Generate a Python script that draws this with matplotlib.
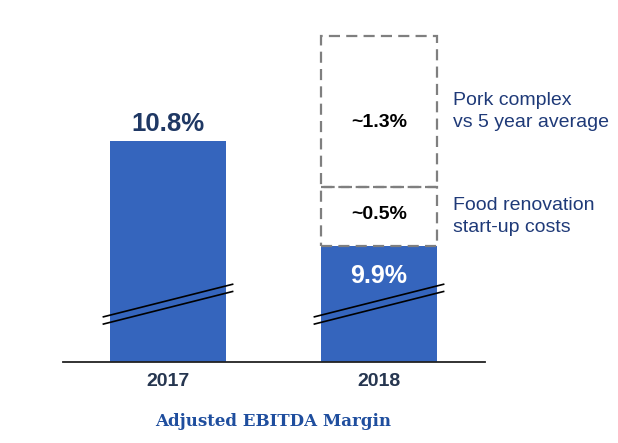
import matplotlib.pyplot as plt

plt.rcParams['font.family'] = ['Liberation Sans', 'DejaVu Sans']

years = ['2017', '2018']
margin = [10.8, 9.9]
food_cost = 0.5
pork_gap = 1.3
food_label = 'Food renovation\nstart-up costs'
pork_label = 'Pork complex\nvs 5 year average'
title = 'Adjusted EBITDA Margin'

y_base = 8.9  # broken axis, bars start here
blue = '#3565bd'
navy = '#1f3864'
grey = '#7f7f7f'

fig = plt.figure(figsize=(6.18, 4.43), dpi=100)
ax = fig.add_axes([62.5 / 618, 81 / 443, 422 / 618, 332 / 443])

x = [0, 1]
w = 0.55
ax.bar(x, [m - y_base for m in margin], bottom=y_base, width=w, color=blue, zorder=2)

# dashed boxes on top of 2018
b1 = margin[1]
ax.bar(x[1], food_cost, bottom=b1, width=w, fill=False, edgecolor=grey,
       linestyle=(0, (5, 2.8)), linewidth=1.6, zorder=3)
ax.bar(x[1], pork_gap, bottom=b1 + food_cost, width=w, fill=False, edgecolor=grey,
       linestyle=(0, (5, 2.8)), linewidth=1.6, zorder=3)

# break marks
for xi in x:
    for off in (0.0, -0.062):
        ax.plot([xi - 0.31, xi + 0.31], [9.286 + off, 9.569 + off], color='black',
                linewidth=1.2, zorder=4, solid_capstyle='butt')

ax.text(x[0], margin[0] + 0.14, '10.8%', ha='center', va='center', fontsize=18.5,
        fontweight='bold', color=navy)
ax.text(x[1], b1 - 0.26, '9.9%', ha='center', va='center', fontsize=18,
        fontweight='bold', color='white')
ax.text(x[1], b1 + food_cost / 2 + 0.02, '~0.5%', ha='center', va='center',
        fontsize=14, fontweight='bold', color='black')
ax.text(x[1], b1 + food_cost + pork_gap / 2 - 0.09, '~1.3%', ha='center', va='center',
        fontsize=14, fontweight='bold', color='black')

ax.text(1.351, b1 + food_cost / 2, food_label, ha='left', va='center', fontsize=14,
        color='#1f3a78', linespacing=1.35)
ax.text(1.351, b1 + food_cost + pork_gap / 2, pork_label, ha='left', va='center',
        fontsize=14, color='#1f3a78', linespacing=1.35)

ax.set_xlim(-0.5, 1.5)
ax.set_ylim(y_base, y_base + 332 / 116.5)
ax.set_xticks(x, years)
ax.tick_params(axis='x', length=0, pad=8, labelsize=14, labelcolor='#263650')
for lab in ax.get_xticklabels():
    lab.set_fontweight('bold')
ax.set_yticks([])
for s in ['top', 'left', 'right']:
    ax.spines[s].set_visible(False)
ax.spines['bottom'].set_linewidth(1.3)
ax.spines['bottom'].set_color('#222222')

fig.text(273 / 618, 21 / 443, title, ha='center', va='center', fontsize=12,
         fontweight='bold', family='DejaVu Serif', color='#1f4e9e')

fig.savefig('out.png', dpi=100)
